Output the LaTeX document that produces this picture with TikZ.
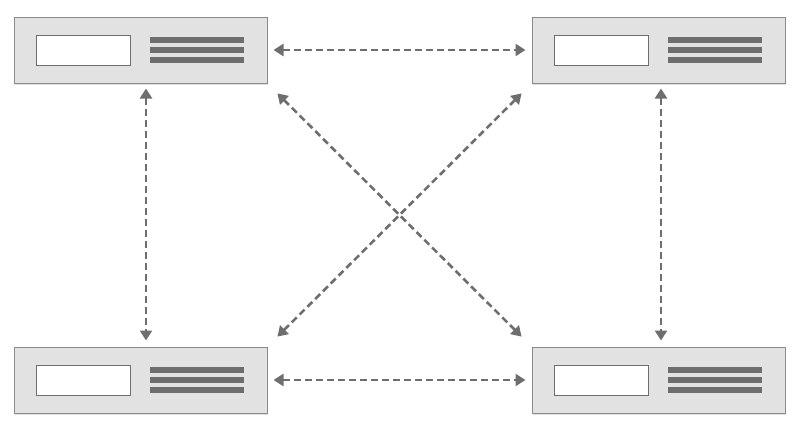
\documentclass[tikz,border=0pt]{standalone}
\usetikzlibrary{positioning,arrows.meta,shadows}

\definecolor{boxgray}{HTML}{E2E2E2}
\definecolor{linegray}{HTML}{6E6E6E}

\tikzset{
  unit/.style={draw=linegray!80,fill=boxgray,line width=1pt,minimum width=253pt,minimum height=66pt,inner sep=0pt,
    drop shadow={shadow xshift=1pt,shadow yshift=-1.5pt,opacity=.25}},
  slot/.style={draw=linegray,fill=white,line width=1pt,minimum width=94pt,minimum height=30pt,inner sep=0pt},
  bar/.style={fill=linegray,minimum width=94pt,minimum height=6pt,inner sep=0pt},
  link/.style={draw=linegray,line width=2.6pt,dash pattern=on 7pt off 4pt,{Triangle[length=10pt,width=12pt]}-{Triangle[length=10pt,width=12pt]}}
}

\begin{document}
\begin{tikzpicture}[x=1pt,y=-1pt]
\useasboundingbox (0,0) rectangle (800,434);
\foreach \name/\x/\y in {A/140.5/50,B/658.5/50,C/140.5/380,D/658.5/380}
{
  \node[unit] (\name) at (\x,\y) {};
  \node[slot,xshift=-57.5pt] (\name s) at (\name.center) {};
  \node[bar,xshift=56.5pt] (\name b2) at (\name.center) {};
  \node[bar,above=4pt of \name b2] (\name b1) {};
  \node[bar,below=4pt of \name b2] (\name b3) {};
}
% horizontal links
\draw[link,shorten <=6pt,shorten >=6pt] (A.east) -- (B.west);
\draw[link,shorten <=6pt,shorten >=6pt] (C.east) -- (D.west);
% vertical links
\draw[link,shorten <=5pt,shorten >=6pt] ([xshift=5.5pt]A.south) -- ([xshift=5.5pt]C.north);
\draw[link,shorten <=5pt,shorten >=6pt] ([xshift=2.5pt]B.south) -- ([xshift=2.5pt]D.north);
% crossing links
\draw[link,shorten <=14pt,shorten >=14pt] (A.south east) -- (D.north west);
\draw[link,shorten <=14pt,shorten >=14pt] (B.south west) -- (C.north east);
\end{tikzpicture}
\end{document}
